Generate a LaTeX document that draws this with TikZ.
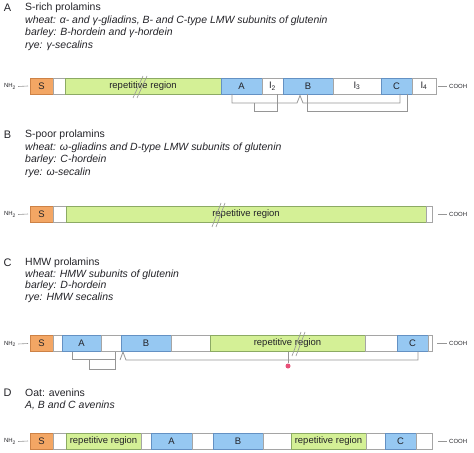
\documentclass[tikz,border=0pt]{standalone}
\usepackage{fontspec}
\setmainfont{Liberation Sans}
\definecolor{orF}{RGB}{243,166,100}
\definecolor{orD}{RGB}{205,130,70}
\definecolor{grF}{RGB}{212,240,150}
\definecolor{grD}{RGB}{140,170,100}
\definecolor{blF}{RGB}{150,200,242}
\definecolor{blD}{RGB}{100,145,195}
\definecolor{barline}{RGB}{165,165,165}
\definecolor{bondc}{RGB}{150,150,150}
\definecolor{txt}{RGB}{35,35,40}
\definecolor{pinkdot}{RGB}{232,80,120}
\newcommand\sg[6]{\node[#1, minimum width={#4bp-#3bp}] (#2) at (#3,#5) {#6};}
\newcommand\slashpair[4]{\draw[slash] (#1,#2) -- (#3,#4); \draw[slash] ([xshift=4bp]#1,#2) -- ([xshift=4bp]#3,#4);}
\begin{document}
\begin{tikzpicture}[x=1bp,y=-1bp,
 seg/.style={draw=barline, line width=0.7bp, inner sep=0, outer sep=0, minimum height=16bp, anchor=west, font=\fontsize{9.5}{10}\selectfont, text=txt},
 sS/.style={seg, fill=orF, draw=orD},
 sG/.style={seg, fill=grF, draw=grD},
 sB/.style={seg, fill=blF, draw=blD},
 sW/.style={seg, fill=white},
 bond/.style={draw=bondc, line width=0.8bp},
 slash/.style={draw=bondc, line width=0.6bp},
 term/.style={font=\fontsize{6}{7}\selectfont, inner sep=0, text=txt},
 tick/.style={draw=bondc, line width=0.6bp},
 head/.style={anchor=west, inner sep=0, font=\fontsize{10.5}{12}\selectfont, text=txt},
 ital/.style={head, font=\fontsize{10.5}{12}\selectfont\itshape},
 lett/.style={inner sep=0, font=\fontsize{11}{12}\selectfont, text=txt},
 dot/.style={circle, fill=pinkdot, inner sep=0, minimum size=5bp}]
\useasboundingbox (0,0) rectangle (474,453);

% ---------- A ----------
\node[lett] (hA) at (7.5,7.5) {A};
\node[head] (tA1) at (25,7.5) {S-rich prolamins};
\node[ital] (tA2) at (25,20.5) {wheat: α- and γ-gliadins, B- and C-type LMW subunits of glutenin};
\node[ital] (tA3) at (25,33) {barley: B-hordein and γ-hordein};
\node[ital] (tA4) at (25,45.5) {rye: γ-secalins};

\sg{sS}{aS}{30}{53}{86}{S}
\sg{sW}{aW1}{53}{65}{86}{}
\sg{sG}{aG}{65}{221}{86}{repetitive region}
\sg{sB}{aA}{221}{262}{86}{A}
\sg{sW}{aI2}{262}{283}{86}{I\textsubscript{2}}
\sg{sB}{aB}{283}{333}{86}{B}
\sg{sW}{aI3}{333}{381}{86}{I\textsubscript{3}}
\sg{sB}{aC}{381}{412}{86}{C}
\sg{sW}{aI4}{412}{436}{86}{I\textsubscript{4}}
\node[term] (aN) at (10,86.5) {NH\textsubscript{2}};
\node[term, anchor=west] (aO) at (449,86) {COOH};
\draw[tick] ([xshift=2bp]aN.east) -- ([xshift=-2bp]aS.west);
\draw[tick] ([xshift=2bp]aI4.east) -- ([xshift=-2bp]aO.west);
\slashpair{133}{98}{143}{76}
\draw[bond] (232,0 |- aA.south) -- (232,103) -- (297,103) -- (300,95.5) -- (303,103) -- (400,103) -- (400,0 |- aC.south);
\draw[bond] (254,103) -- (254,111) -- (277,111) -- (277,0 |- aI2.south);
\draw[bond] (307,0 |- aB.south) -- (307,111) -- (407,111) -- (407,0 |- aC.south);

% ---------- B ----------
\node[lett] (hB) at (7.5,135) {B};
\node[head] (tB1) at (25,135) {S-poor prolamins};
\node[ital] (tB2) at (25,147.5) {wheat: ω-gliadins and D-type LMW subunits of glutenin};
\node[ital] (tB3) at (25,160) {barley: C-hordein};
\node[ital] (tB4) at (25,172.5) {rye: ω-secalin};

\sg{sS}{bS}{30}{53}{214}{S}
\sg{sW}{bW1}{53}{66}{214}{}
\sg{sG}{bG}{66}{426}{214}{repetitive region}
\sg{sW}{bW2}{426}{432}{214}{}
\node[term] (bN) at (10,214.5) {NH\textsubscript{2}};
\node[term, anchor=west] (bO) at (449,214) {COOH};
\draw[tick] ([xshift=2bp]bN.east) -- ([xshift=-2bp]bS.west);
\draw[tick] ([xshift=6bp]bW2.east) -- ([xshift=-2bp]bO.west);
\slashpair{212}{227}{221}{203}

% ---------- C ----------
\node[lett] (hC) at (7.5,263) {C};
\node[head] (tC1) at (25,263) {HMW prolamins};
\node[ital] (tC2) at (25,274.5) {wheat: HMW subunits of glutenin};
\node[ital] (tC3) at (25,286) {barley: D-hordein};
\node[ital] (tC4) at (25,297.5) {rye: HMW secalins};

\sg{sS}{cS}{30}{53}{343.5}{S}
\sg{sW}{cW1}{53}{62}{343.5}{}
\sg{sB}{cA}{62}{101}{343.5}{A}
\sg{sW}{cW2}{101}{121}{343.5}{}
\sg{sB}{cB}{121}{171}{343.5}{B}
\sg{sW}{cW3}{171}{210}{343.5}{}
\sg{sG}{cG}{210}{365}{343.5}{repetitive region}
\sg{sW}{cW4}{365}{397}{343.5}{}
\sg{sB}{cC}{397}{428}{343.5}{C}
\sg{sW}{cW5}{428}{432}{343.5}{}
\node[term] (cN) at (10,344) {NH\textsubscript{2}};
\node[term, anchor=west] (cO) at (449,343.5) {COOH};
\draw[tick] ([xshift=2bp]cN.east) -- ([xshift=-2bp]cS.west);
\draw[tick] ([xshift=5bp]cW5.east) -- ([xshift=-2bp]cO.west);
\slashpair{292}{356}{301}{332}
\draw[bond] (72,0 |- cA.south) -- (72,359) -- (115,359) -- (115,0 |- cW2.south);
\draw[bond] (89,359) -- (89,369) -- (115,369) -- (115,359);
\draw[bond] (120,360) -- (123,352) -- (126,360) -- (418,360) -- (418,0 |- cC.south);
\node[dot] (cP) at (288,366) {};
\draw[bond] (288,0 |- cG.south) -- (cP);

% ---------- D ----------
\node[lett] (hD) at (7.5,393) {D};
\node[head] (tD1) at (25,393) {Oat: avenins};
\node[ital] (tD2) at (25,405.5) {A, B and C avenins};

\sg{sS}{dS}{30}{53}{441}{S}
\sg{sW}{dW1}{53}{66}{441}{}
\sg{sG}{dG1}{66}{141}{441}{repetitive region}
\sg{sW}{dW2}{141}{151}{441}{}
\sg{sB}{dA}{151}{192}{441}{A}
\sg{sW}{dW3}{192}{213}{441}{}
\sg{sB}{dB}{213}{263}{441}{B}
\sg{sW}{dW4}{263}{291}{441}{}
\sg{sG}{dG2}{291}{366}{441}{repetitive region}
\sg{sW}{dW5}{366}{385}{441}{}
\sg{sB}{dC}{385}{416}{441}{C}
\sg{sW}{dW6}{416}{432}{441}{}
\node[term] (dN) at (10,441.5) {NH\textsubscript{2}};
\node[term, anchor=west] (dO) at (449,441) {COOH};
\draw[tick] ([xshift=2bp]dN.east) -- ([xshift=-2bp]dS.west);
\draw[tick] ([xshift=6bp]dW6.east) -- ([xshift=-2bp]dO.west);
\end{tikzpicture}
\end{document}
